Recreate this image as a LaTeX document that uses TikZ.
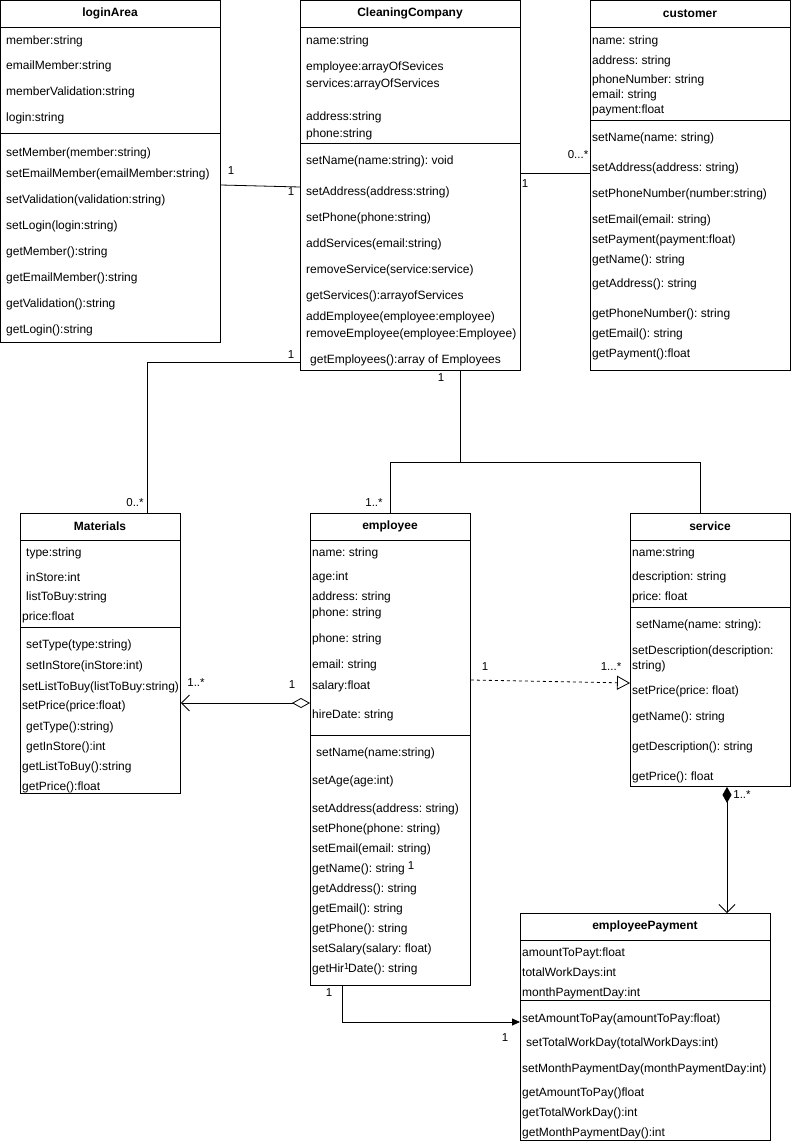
\documentclass[tikz,border=0pt]{standalone}
\usepackage{fontspec}
\setmainfont{Liberation Sans}
\usetikzlibrary{arrows.meta}
\frenchspacing
\begin{document}
\begin{tikzpicture}[x=1pt,y=-1pt,
  box/.style={draw,line width=0.9pt,anchor=north west,inner sep=0pt},
  ln/.style={anchor=west,inner sep=0pt,yshift=-1.5pt,font=\fontsize{12}{14}\selectfont},
  ttl/.style={anchor=center,inner sep=0pt,font=\fontsize{12}{14}\selectfont\bfseries},
  lbl/.style={inner sep=0pt,font=\fontsize{11.5}{13}\selectfont},
  conn/.style={line width=0.8pt}]
\useasboundingbox (0,0) rectangle (791,1141);
\newcommand{\umlbox}[8]{%
  \node[box,minimum width=#4-#2,minimum height=#5-#3] (#1) at (#2,#3) {};
  \draw[line width=0.9pt] (#2,#3+27) -- (#4,#3+27);
  \draw[line width=0.9pt] (#2,#7) -- (#4,#7);
  \node[ttl] (#1t) at ({(#2+#4)/2},#3+13.5) {#6};}
\umlbox{login}{0}{0}{220}{342}{loginArea}{133}{}
\umlbox{cc}{300}{0}{520}{370}{CleaningCompany}{143}{}
\umlbox{cust}{590}{0}{790}{370}{customer}{120}{}
\umlbox{mat}{20}{513}{180}{793}{Materials}{627}{}
\umlbox{emp}{310}{513}{470}{985}{employee}{735}{}
\umlbox{serv}{630}{513}{790}{786}{service}{607}{}
\umlbox{pay}{520}{913}{770}{1140}{employeePayment}{1000}{}
\foreach \y/\t in {40/member:string,65/emailMember:string,91/memberValidation:string,117/login:string,152/setMember(member:string),173/setEmailMember(emailMember:string),199/setValidation(validation:string),225/setLogin(login:string),251/getMember():string,277/getEmailMember():string,303/getValidation():string,329/getLogin():string}
  \node[ln] at (6,\y) {\t};
\foreach \y/\t in {40/name:string,66/employee:arrayOfSevices,83/services:arrayOfServices,116/address:string,133/phone:string,160/setName(name:string): void,191/setAddress(address:string),217/setPhone(phone:string),243/addServices(email:string),269/removeService(service:service),295/getServices():arrayofServices,316/addEmployee(employee:employee),333/removeEmployee(employee:Employee)}
  \node[ln] at (306,\y) {\t};
\node[ln] at (310,359) {getEmployees():array of Employees};
\foreach \y/\t in {40/name: string,60/address: string,79/phoneNumber: string,94/email: string,109/payment:float,137/setName(name: string),167/setAddress(address: string),193/setPhoneNumber(number:string),219/setEmail(email: string),239/setPayment(payment:float),259/getName(): string,283/getAddress(): string,313/getPhoneNumber(): string,333/getEmail(): string,353/getPayment():float}
  \node[ln] at (592,\y) {\t};
\foreach \x/\y/\t in {26/552/type:string,26/576/inStore:int,26/596/listToBuy:string,22/616/price:float,26/644/setType(type:string),26/665/setInStore(inStore:int),22/686/setListToBuy(listToBuy:string),22/705/setPrice(price:float),26/726/getType():string),26/746/getInStore():int,22/766/getListToBuy():string,22/786/getPrice():float}
  \node[ln] at (\x,\y) {\t};
\foreach \x/\y/\t in {312/552/name: string,312/576/age:int,312/596/address: string,312/612/phone: string,312/638/phone: string,312/664/email: string,312/685/salary:float,312/714/hireDate: string,316/752/setName(name:string),312/780/setAge(age:int),312/808/setAddress(address: string),312/828/setPhone(phone: string),312/848/setEmail(email: string),312/868/getName(): string,312/888/getAddress(): string,312/908/getEmail(): string,312/928/getPhone(): string,312/948/setSalary(salary: float)}
  \node[ln] at (\x,\y) {\t};
\node[ln] at (312,968) {getHir\raisebox{3pt}{\fontsize{9}{10}\selectfont 1}\kern-1pt{}Date(): string};
\foreach \x/\y/\t in {632/552/name:string,632/576/description: string,632/596/price: float,636/624/setName(name: string):,632/650/setDescription(description:,632/665/string),632/690/setPrice(price: float),632/716/getName(): string,632/746/getDescription(): string,632/776/getPrice(): float}
  \node[ln] at (\x,\y) {\t};
\foreach \x/\y/\t in {522/952/amountToPayt:float,522/972/totalWorkDays:int,522/992/monthPaymentDay:int,522/1018/setAmountToPay(amountToPay:float),526/1042/setTotalWorkDay(totalWorkDays:int),522/1068/setMonthPaymentDay(monthPaymentDay:int),522/1092/getAmountToPay()float,522/1112/getTotalWorkDay():int,522/1132/getMonthPaymentDay():int}
  \node[ln] at (\x,\y) {\t};
\coordinate (j) at (460,462);
\draw[conn] (login.east |- 0,185) -- (cc.west |- 0,187);
\draw[conn] (cc.east |- 0,173) -- (cust.west |- 0,173);
\draw[conn] (cc.west |- 0,362) -| (mat.north -| 147,0);
\draw[conn] (cc.south -| 460,0) -- (j);
\draw[conn] (390,462) -- (700,462);
\draw[conn] (390,462) -- (emp.north -| 390,0);
\draw[conn] (700,462) -- (serv.north -| 700,0);
\draw[conn,{Straight Barb[length=8pt,width=16pt]}-{Diamond[open,length=18pt,width=10pt]}] (mat.east |- 0,703) -- (emp.west |- 0,703);
\draw[conn,dashed,-{Triangle[open,length=13pt,width=14pt]}] (emp.east |- 0,680) -- (serv.west |- 0,683);
\draw[conn,{Diamond[length=16pt,width=9pt]}-{Straight Barb[length=8pt,width=16pt]}] (serv.south -| 727,0) -- (pay.north -| 727,0);
\draw[conn,-{Triangle[length=8pt,width=7pt]}] (emp.south -| 342,0) |- (pay.west |- 0,1022);
\node[lbl] (l1) at (231,171) {1};
\node[lbl] (l2) at (291,192) {1};
\node[lbl] (l3) at (525,184) {1};
\node[lbl] (l4) at (578,155) {0...*};
\node[lbl] (l5) at (291,355) {1};
\node[lbl] (l6) at (135,503) {0..*};
\node[lbl] (l7) at (441,378) {1};
\node[lbl] (l8) at (374,503) {1..*};
\node[lbl] (l9) at (196,683) {1..*};
\node[lbl] (l10) at (292,685) {1};
\node[lbl] (l11) at (485,667) {1};
\node[lbl] (l12) at (611,667) {1...*};
\node[lbl] (l13) at (742,795) {1..*};
\node[lbl] (l14) at (329,993) {1};
\node[lbl] (l15) at (505,1038) {1};
\node[lbl] (l16) at (411,866) {1};
\end{tikzpicture}
\end{document}
